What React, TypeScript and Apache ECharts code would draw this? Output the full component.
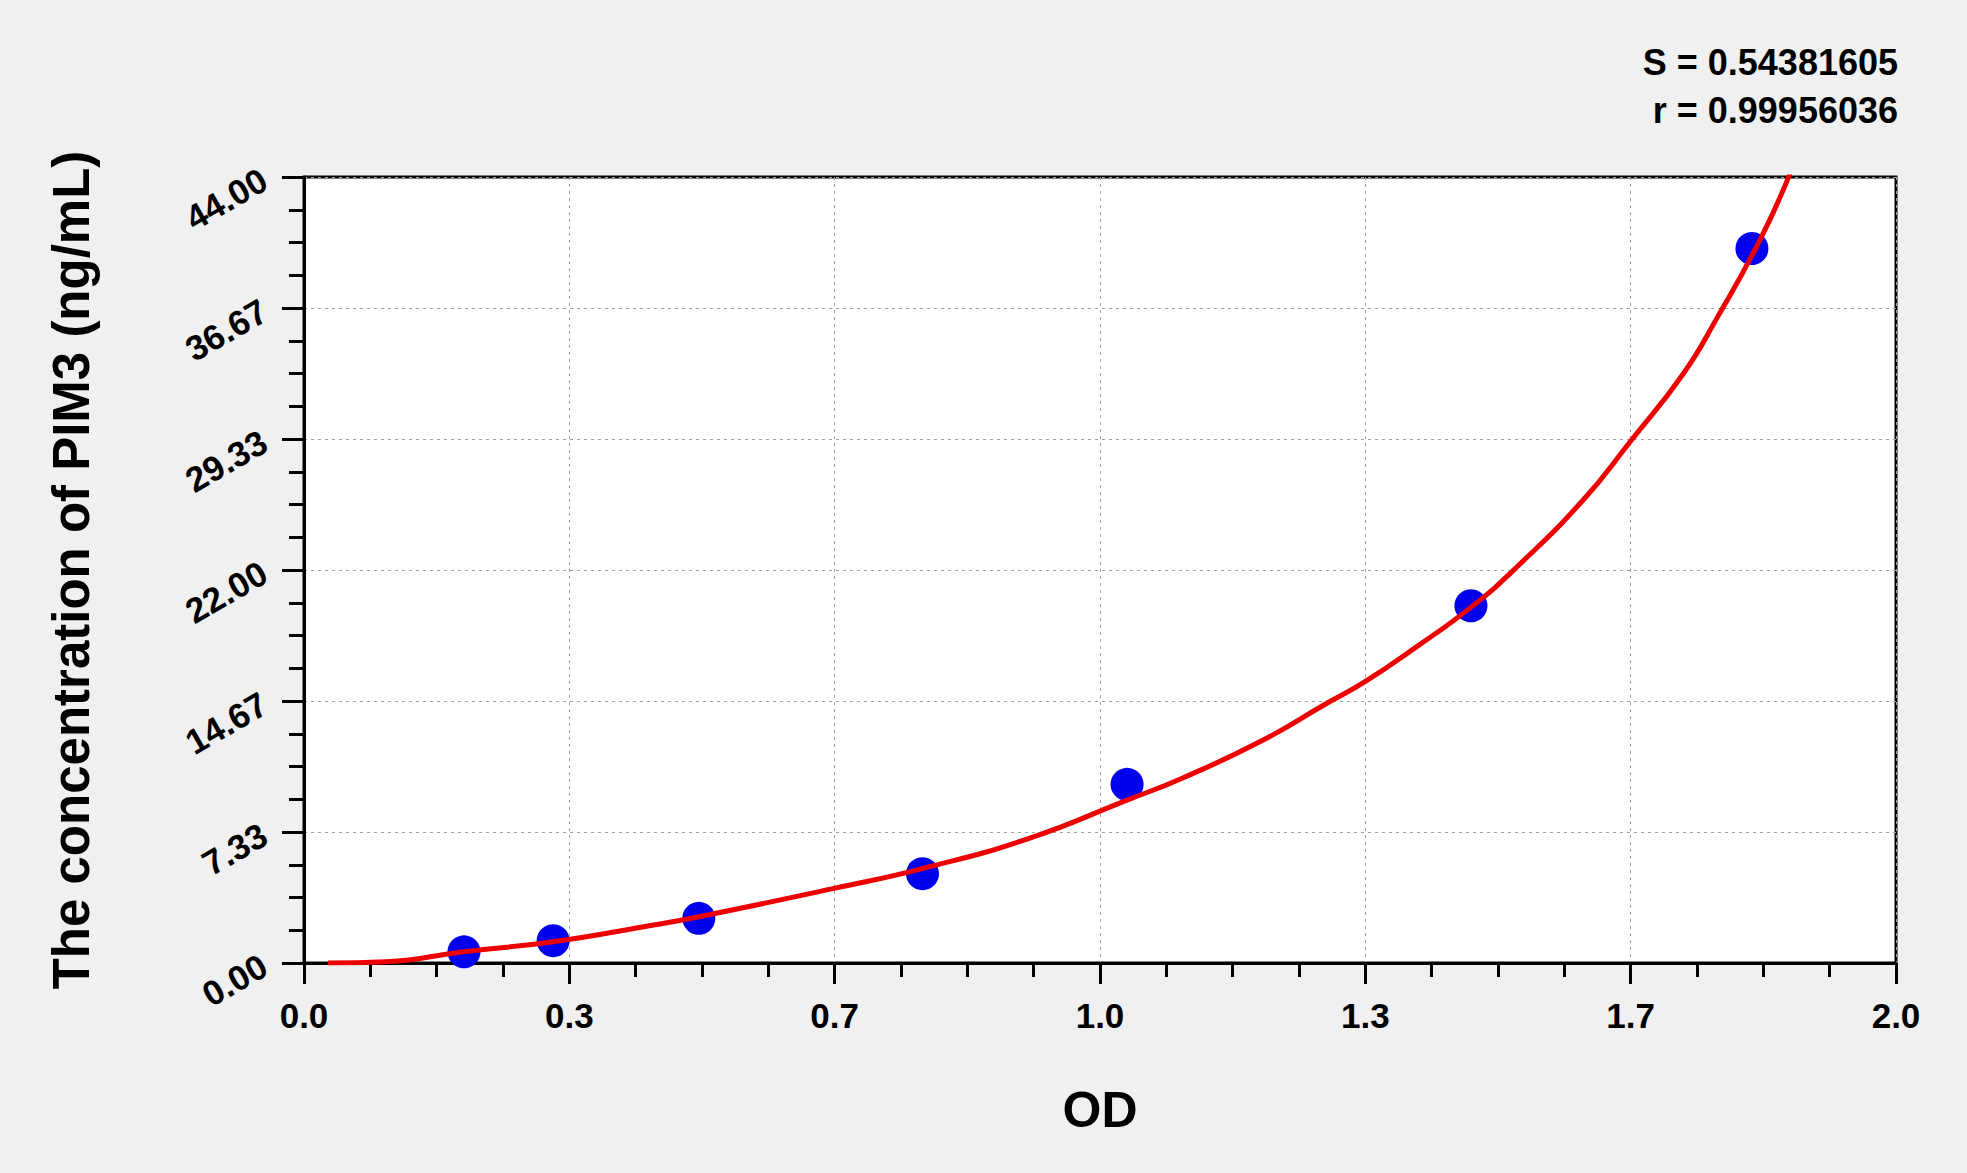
import React, { useEffect, useRef } from "react";
import * as echarts from "echarts";

// Standard points (OD vs concentration)
const odValues = [0.201, 0.313, 0.496, 0.777, 1.034, 1.466, 1.819];
const concValues = [0.625, 1.25, 2.5, 5, 10, 20, 40];

// Fitted curve
const curveOD = [0.03, 0.103, 0.2005, 0.313, 0.427, 0.496, 0.666, 0.778, 0.911, 1.034, 1.104, 1.205, 1.285, 1.333, 1.398, 1.467, 1.524, 1.607, 1.666, 1.733, 1.775, 1.829, 1.867];
const curveConc = [0.0, 0.07, 0.63, 1.19, 2.03, 2.59, 4.18, 5.3, 6.98, 9.12, 10.36, 12.48, 14.54, 15.75, 17.71, 19.95, 22.18, 25.92, 29.18, 33.0, 36.1, 40.47, 44.2];

const statLines = ["S = 0.54381605", "r = 0.99956036"];
const xTitle = "OD";
const yTitle = "The concentration of PIM3 (ng/mL)";

const FONT = "'Liberation Sans', Arial, sans-serif";

export default function App() {
  const ref = useRef<HTMLDivElement>(null);
  useEffect(() => {
    if (!ref.current) return;
    const chart = echarts.init(ref.current, undefined, { renderer: "svg" });
    const grid = "#a0a0a0";
    chart.setOption({
      animation: false,
      backgroundColor: "#f0f0f0",
      grid: {
        left: 304,
        top: 177,
        right: 71,
        bottom: 210,
        show: true,
        backgroundColor: "#ffffff",
        borderColor: "#000000",
        borderWidth: 3,
      },
      xAxis: {
        type: "value",
        min: 0,
        max: 2,
        interval: 1 / 3,
        name: xTitle,
        nameLocation: "middle",
        nameGap: 122,
        nameTextStyle: { fontFamily: FONT, fontWeight: "bold", fontSize: 50, color: "#000" },
        axisLine: { show: true, onZero: false, lineStyle: { color: "#000", width: 3 } },
        axisTick: { show: true, inside: false, length: 21, lineStyle: { color: "#000", width: 3 } },
        minorTick: { show: true, splitNumber: 4, length: 14, lineStyle: { color: "#000", width: 3 } },
        axisLabel: {
          margin: 35,
          fontFamily: FONT,
          fontWeight: "bold",
          fontSize: 35,
          color: "#000",
          formatter: (v: number) => v.toFixed(1),
        },
        splitLine: { show: true, lineStyle: { color: grid, width: 1, type: [3, 4] } },
      },
      yAxis: {
        type: "value",
        min: 0,
        max: 44,
        interval: 44 / 6,
        name: yTitle,
        nameLocation: "middle",
        nameGap: 207,
        nameTextStyle: { fontFamily: FONT, fontWeight: "bold", fontSize: 51, color: "#000" },
        axisLine: { show: true, onZero: false, lineStyle: { color: "#000", width: 3 } },
        axisTick: { show: true, inside: false, length: 22, lineStyle: { color: "#000", width: 3 } },
        minorTick: { show: true, splitNumber: 4, length: 15, lineStyle: { color: "#000", width: 3 } },
        axisLabel: {
          margin: 40,
          rotate: 30,
          fontFamily: FONT,
          fontWeight: "bold",
          fontSize: 35,
          color: "#000",
          formatter: (v: number) => v.toFixed(2),
        },
        splitLine: { show: true, lineStyle: { color: grid, width: 1, type: [3, 4] } },
      },
      graphic: statLines.map((t, i) => ({
        type: "text",
        right: 69,
        top: 44 + i * 48,
        style: {
          text: t,
          fontFamily: FONT,
          fontWeight: "bold",
          fontSize: 36,
          fill: "#000",
        },
      })),
      series: [
        {
          type: "scatter",
          data: odValues.map((x, i) => [x, concValues[i]]),
          symbol: "circle",
          symbolSize: 33,
          itemStyle: { color: "#0000ee", opacity: 1 },
          z: 2,
        },
        {
          type: "line",
          data: curveOD.map((x, i) => [x, curveConc[i]]),
          showSymbol: false,
          symbol: "none",
          smooth: 0.5,
          clip: true,
          lineStyle: { color: "#ee0000", width: 5 },
          z: 3,
        },
      ],
    });
    return () => chart.dispose();
  }, []);
  return (
    <div
      ref={ref}
      style={{ position: "fixed", left: 0, top: 0, width: "1967px", height: "1173px" }}
    />
  );
}
